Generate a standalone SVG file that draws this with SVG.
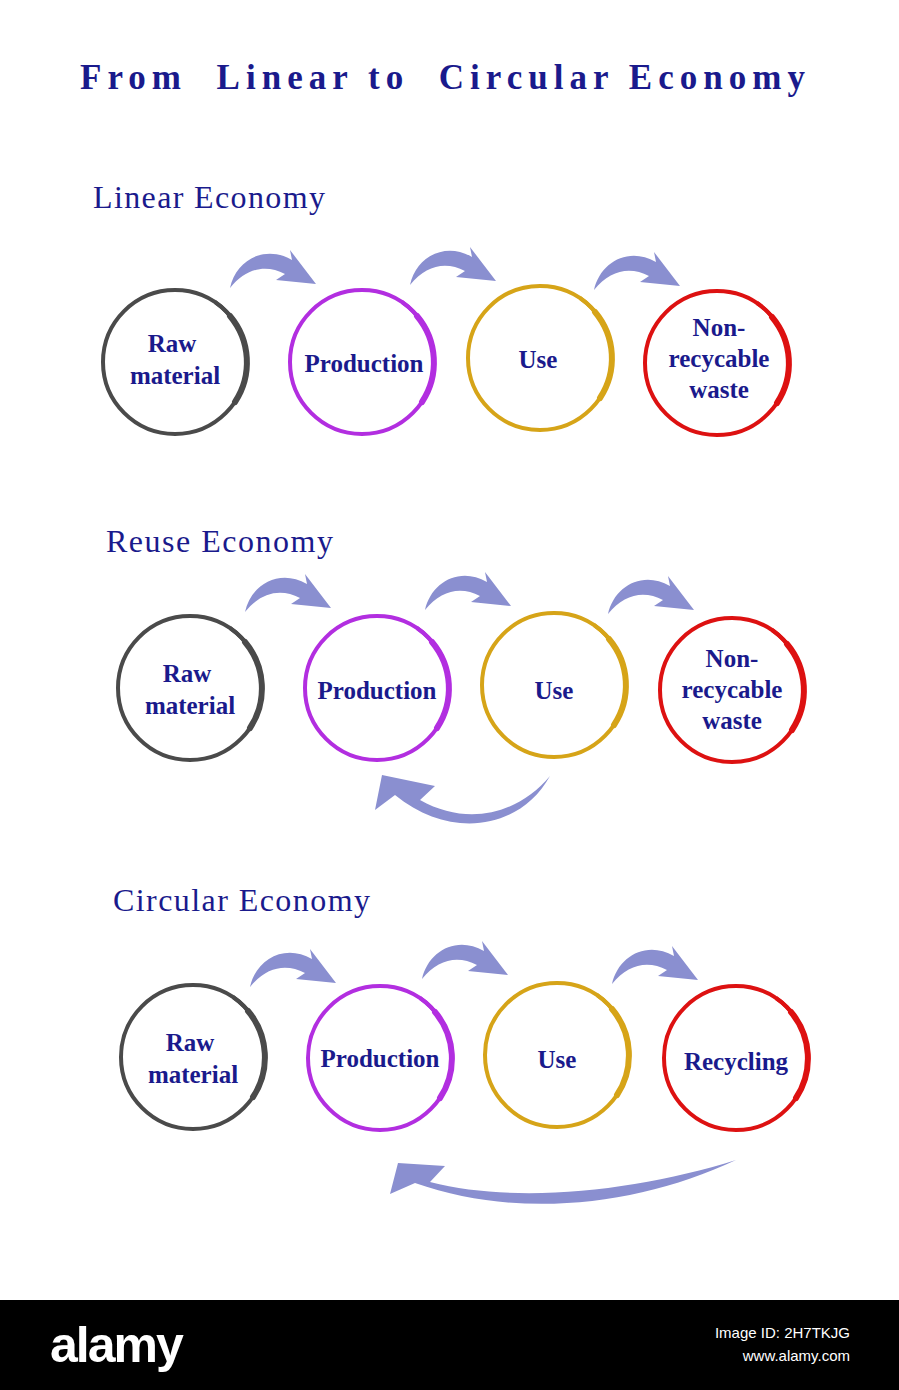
<svg xmlns="http://www.w3.org/2000/svg" width="899" height="1390" viewBox="0 0 899 1390">
<style>
.t{font-family:"Liberation Serif",serif;fill:#1a1a8c;font-weight:bold;font-size:25px;text-anchor:middle}
.h{font-family:"Liberation Serif",serif;fill:#1a1a8c;font-size:32px}
.c{fill:none;stroke-width:4}
.tail{fill:none;stroke-width:6;stroke-linecap:round}
.ar{fill:#8a8fd0}
</style>
<defs>
<path id="arr" d="M0,38 C6,10 35,-6 62,10 L60,0 L86,34 L46,30 L55,24 C36,14 16,18 0,38 Z"/>
<g id="ring"><circle class="c" r="72"/><path class="tail" d="M55,-46 A72,72 0 0 1 60,40"/><path class="c" d="M40,-60 A72,72 0 0 1 62,-36" stroke-width="2"/></g>
</defs>
<rect width="899" height="1390" fill="#fff"/>
<text x="80" y="89" font-family="Liberation Serif,serif" font-weight="bold" font-size="35" fill="#1a1a8c" textLength="725" xml:space="preserve">From  Linear to  Circular Economy</text>
<text class="h" x="93" y="208" textLength="232">Linear Economy</text>
<text class="h" x="106" y="552" textLength="227">Reuse Economy</text>
<text class="h" x="113" y="911" textLength="257">Circular Economy</text>
<g id="connectors" class="ar">
<use href="#arr" transform="translate(230,250)"/>
<use href="#arr" transform="translate(410,247)"/>
<use href="#arr" transform="translate(594,252)"/>
<use href="#arr" transform="translate(245,574)"/>
<use href="#arr" transform="translate(425,572)"/>
<use href="#arr" transform="translate(608,576)"/>
<use href="#arr" transform="translate(250,949)"/>
<use href="#arr" transform="translate(422,941)"/>
<use href="#arr" transform="translate(612,946)"/>
<path d="M550,776 C520,812 470,828 420,800 L435,786 L382,775 L375,810 L395,795 C450,840 520,830 550,776 Z"/>
<path d="M736,1160 C640,1190 520,1205 430,1182 L445,1166 L398,1163 L390,1194 L415,1183 C520,1220 640,1205 736,1160 Z"/>
</g>
<g id="raw1" stroke="#4a4a4a"><use href="#ring" transform="translate(175,362)"/><text class="t" x="172" y="352" stroke="none">Raw</text><text class="t" x="175" y="384" stroke="none">material</text></g>
<g id="prod1" stroke="#b22ee0"><use href="#ring" transform="translate(362,362)"/><text class="t" x="364" y="372" stroke="none">Production</text></g>
<g id="use1" stroke="#d6a418"><use href="#ring" transform="translate(540,358)"/><text class="t" x="538" y="368" stroke="none">Use</text></g>
<g id="waste1" stroke="#dd1111"><use href="#ring" transform="translate(717,363)"/><text class="t" x="719" y="336" stroke="none">Non-</text><text class="t" x="719" y="367" stroke="none">recycable</text><text class="t" x="719" y="398" stroke="none">waste</text></g>
<g id="raw2" stroke="#4a4a4a"><use href="#ring" transform="translate(190,688)"/><text class="t" x="187" y="682" stroke="none">Raw</text><text class="t" x="190" y="714" stroke="none">material</text></g>
<g id="prod2" stroke="#b22ee0"><use href="#ring" transform="translate(377,688)"/><text class="t" x="377" y="699" stroke="none">Production</text></g>
<g id="use2" stroke="#d6a418"><use href="#ring" transform="translate(554,685)"/><text class="t" x="554" y="699" stroke="none">Use</text></g>
<g id="waste2" stroke="#dd1111"><use href="#ring" transform="translate(732,690)"/><text class="t" x="732" y="667" stroke="none">Non-</text><text class="t" x="732" y="698" stroke="none">recycable</text><text class="t" x="732" y="729" stroke="none">waste</text></g>
<g id="raw3" stroke="#4a4a4a"><use href="#ring" transform="translate(193,1057)"/><text class="t" x="190" y="1051" stroke="none">Raw</text><text class="t" x="193" y="1083" stroke="none">material</text></g>
<g id="prod3" stroke="#b22ee0"><use href="#ring" transform="translate(380,1058)"/><text class="t" x="380" y="1067" stroke="none">Production</text></g>
<g id="use3" stroke="#d6a418"><use href="#ring" transform="translate(557,1055)"/><text class="t" x="557" y="1068" stroke="none">Use</text></g>
<g id="rec3" stroke="#dd1111"><use href="#ring" transform="translate(736,1058)"/><text class="t" x="736" y="1070" stroke="none">Recycling</text></g>
<rect x="0" y="1300" width="899" height="90" fill="#000"/>
<text x="50" y="1362" font-family="Liberation Sans,sans-serif" font-size="50" fill="#fff" font-weight="bold" letter-spacing="-2">alamy</text>
<text x="850" y="1338" font-family="Liberation Sans,sans-serif" font-size="15" fill="#fff" text-anchor="end">Image ID: 2H7TKJG</text>
<text x="850" y="1361" font-family="Liberation Sans,sans-serif" font-size="15" fill="#fff" text-anchor="end">www.alamy.com</text>
</svg>
